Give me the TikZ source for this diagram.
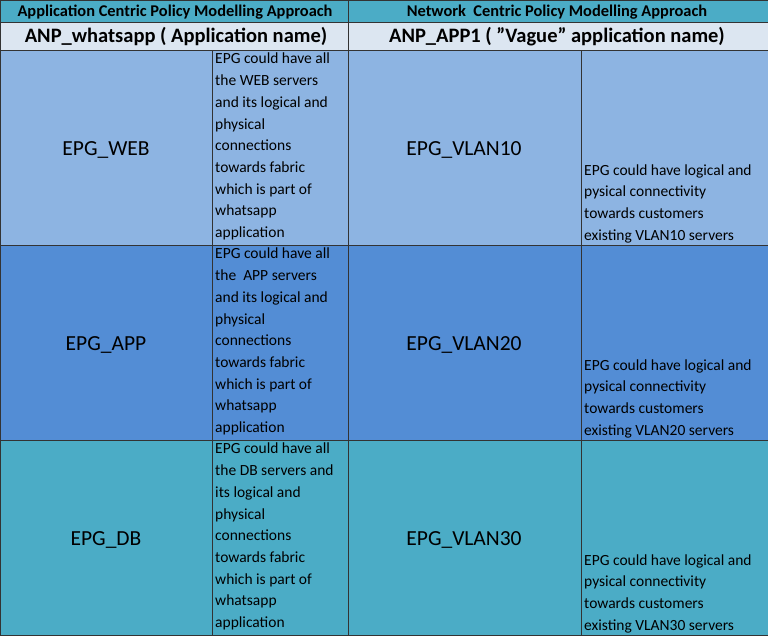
\documentclass[tikz,border=0pt]{standalone}
\usepackage{fontspec}
\setmainfont{Carlito}
\usetikzlibrary{positioning}
\definecolor{hd-teal}{HTML}{4BACC6}
\definecolor{hd-light}{HTML}{DCE6F1}
\definecolor{row-web}{HTML}{8DB4E2}
\definecolor{row-app}{HTML}{538DD5}
\definecolor{row-db}{HTML}{4BACC6}
\tikzset{
  cell/.style={draw=black!80,line width=0.8pt},
  big/.style={font=\fontsize{21.5}{24}\selectfont},
  txt/.style={font=\fontsize{15.5}{21.7}\selectfont,align=left,inner sep=3pt},
  top/.style={txt,anchor=north west},
  bot/.style={txt,anchor=south west},
}
\begin{document}
\begin{tikzpicture}[x=1pt,y=-1pt]
  \useasboundingbox (0,0) rectangle (768,639);

  % header rows
  \filldraw[cell,fill=hd-teal] (0,0) rectangle (348,22);
  \filldraw[cell,fill=hd-teal] (348,0) rectangle (768,22);
  \filldraw[cell,fill=hd-light] (0,22) rectangle (348,50);
  \filldraw[cell,fill=hd-light] (348,22) rectangle (768,50);
  \node[font=\fontsize{16.4}{18}\selectfont\bfseries] (h1) at (175,12) {Application Centric Policy Modelling Approach};
  \node[font=\fontsize{16.4}{18}\selectfont\bfseries] (h2) at (557,12) {Network\ \ Centric Policy Modelling Approach};
  \node[font=\fontsize{20.5}{24}\selectfont\bfseries] (a1) at (176,37) {ANP\_whatsapp ( Application name)};
  \node[font=\fontsize{20.5}{24}\selectfont\bfseries] (a2) at (557,37) {ANP\_APP1 ( \char34Vague\char34\ application name)};

  % body rows
  \foreach \y/\c/\n/\v/\t in {
    50/row-web/WEB/10/{EPG could have all\\the WEB servers\\and its logical and\\physical\\connections\\towards fabric\\which is part of\\whatsapp\\application},
    245/row-app/APP/20/{EPG could have all\\the\ \ APP servers\\and its logical and\\physical\\connections\\towards fabric\\which is part of\\whatsapp\\application},
    440/row-db/DB/30/{EPG could have all\\the DB servers and\\its logical and\\physical\\connections\\towards fabric\\which is part of\\whatsapp\\application}} {
    \foreach \xa/\xb in {0/212,212/348,348/581,581/768}
      \filldraw[cell,fill=\c] (\xa,\y) rectangle (\xb,\y+195);
    \node[big] (epg\n) at (106,\y+100) {EPG\_\n};
    \node[top] (desc\n) at (212,\y) {\t};
    \node[big] (vlan\v) at (464,\y+100) {EPG\_VLAN\v};
    \node[bot] (net\v) at (581,\y+196) {EPG could have logical and\\pysical connectivity\\towards customers\\existing VLAN\v\ servers};
  }
\end{tikzpicture}
\end{document}
